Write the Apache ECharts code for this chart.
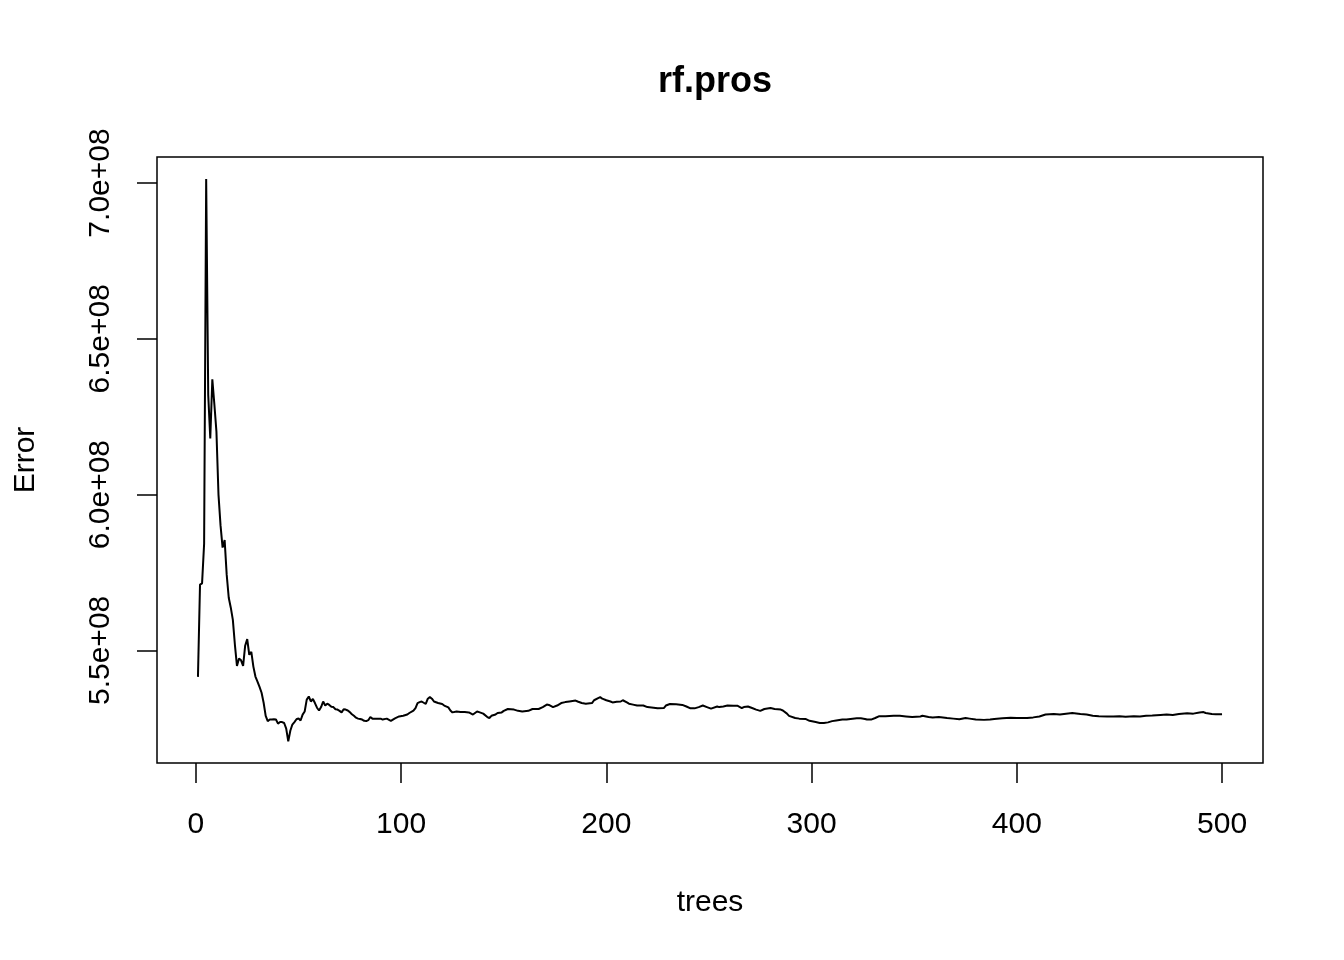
<!DOCTYPE html>
<html>
<head>
<meta charset="utf-8">
<script src="https://cdn.jsdelivr.net/npm/echarts@6/dist/echarts.min.js"></script>
<style>
  html, body { margin: 0; padding: 0; background: #ffffff; }
  #chart { width: 1344px; height: 960px; }
</style>
</head>
<body>
<div id="chart"></div>
<script>
// ---- data (error in units of 1e8) ----
const trees = [
  1,2,3,4,5,6,7,8,9,10,
  11,12,13,14,15,16,17,18,19,20,
  21,22,23,24,25,26,27,28,29,30,
  31,32,33,34,35,36,37,38,39,40,
  41,42,43,44,45,46,47,48,49,50,
  51,52,53,54,55,56,57,58,59,60,
  61,62,63,64,65,66,67,68,69,70,
  71,72,73,74,75,76,77,78,79,80,
  81,82,83,84,85,86,88,90,91,93,
  95,97,98,99,101,103,104,106,107,108,
  109,110,112,113,114,115,116,118,120,121,
  123,124,125,127,129,131,133,135,137,138,
  140,142,143,144,146,147,149,150,152,155,
  157,159,162,164,167,169,171,172,174,176,
  178,180,182,185,186,188,190,193,194,196,
  197,198,200,202,203,205,207,208,210,211,
  213,215,218,220,223,225,228,229,231,234,
  237,239,241,243,245,247,249,251,254,255,
  257,259,262,264,266,267,269,271,273,275,
  277,280,282,285,286,288,289,292,294,297,
  299,302,304,306,308,310,312,315,317,319,
  322,324,326,327,329,331,333,336,340,343,
  346,349,353,354,357,359,362,366,369,372,
  375,377,380,384,387,389,393,395,397,400,
  402,405,408,411,414,418,421,424,427,431,
  434,437,440,444,447,450,453,457,460,463,
  466,470,473,476,479,483,486,489,491,492,
  495,497,500
];
const errorE8 = [
  5.415,5.711,5.715,5.842,7.013,6.32,6.180,6.370,6.289,6.202,
  6.000,5.901,5.830,5.854,5.743,5.669,5.637,5.598,5.518,5.450,
  5.474,5.468,5.450,5.515,5.536,5.486,5.495,5.448,5.416,5.400,
  5.383,5.364,5.332,5.290,5.273,5.278,5.278,5.279,5.278,5.265,
  5.270,5.270,5.267,5.249,5.208,5.242,5.262,5.270,5.279,5.282,
  5.275,5.294,5.304,5.342,5.352,5.336,5.344,5.331,5.316,5.307,
  5.318,5.336,5.323,5.329,5.325,5.319,5.318,5.311,5.310,5.306,
  5.301,5.311,5.310,5.307,5.302,5.295,5.290,5.284,5.281,5.280,
  5.278,5.274,5.273,5.276,5.286,5.281,5.281,5.281,5.278,5.281,
  5.274,5.282,5.285,5.288,5.290,5.294,5.299,5.307,5.315,5.331,
  5.334,5.336,5.328,5.345,5.350,5.345,5.336,5.331,5.328,5.323,
  5.317,5.307,5.301,5.304,5.302,5.302,5.301,5.294,5.304,5.302,
  5.297,5.286,5.283,5.290,5.294,5.299,5.301,5.306,5.312,5.310,
  5.306,5.304,5.306,5.312,5.312,5.318,5.326,5.325,5.318,5.323,
  5.331,5.334,5.336,5.339,5.336,5.331,5.329,5.331,5.340,5.347,
  5.350,5.345,5.340,5.336,5.333,5.335,5.336,5.340,5.333,5.329,
  5.326,5.323,5.323,5.318,5.316,5.314,5.315,5.323,5.328,5.327,
  5.325,5.320,5.314,5.314,5.318,5.323,5.318,5.313,5.320,5.318,
  5.320,5.323,5.322,5.322,5.315,5.318,5.320,5.315,5.310,5.306,
  5.312,5.315,5.312,5.310,5.307,5.297,5.290,5.283,5.281,5.280,
  5.274,5.270,5.267,5.267,5.269,5.273,5.275,5.278,5.278,5.280,
  5.282,5.282,5.280,5.278,5.278,5.283,5.289,5.289,5.290,5.290,
  5.288,5.286,5.288,5.290,5.286,5.285,5.286,5.283,5.281,5.279,
  5.283,5.281,5.278,5.277,5.278,5.280,5.282,5.283,5.284,5.283,
  5.283,5.283,5.285,5.288,5.294,5.296,5.294,5.297,5.299,5.296,
  5.294,5.290,5.289,5.288,5.288,5.289,5.287,5.289,5.288,5.290,
  5.291,5.293,5.294,5.293,5.296,5.298,5.297,5.301,5.302,5.299,
  5.296,5.295,5.295
];
const UNIT = 1e8;
const xTicks = [0, 100, 200, 300, 400, 500];
const yTicks = [5.5e8, 6.0e8, 6.5e8, 7.0e8];
const titleText = 'rf.pros';
const xName = 'trees';
const yName = 'Error';

const seriesData = trees.map((t, i) => [t, errorE8[i] * UNIT]);

const FONT = 'Liberation Sans, Arial, Helvetica, sans-serif';
const chart = echarts.init(document.getElementById('chart'), null, { renderer: 'canvas' });
chart.setOption({
  animation: false,
  backgroundColor: '#ffffff',
  title: {
    text: titleText,
    left: 710,
    top: 59,
    textAlign: 'center',
    textStyle: { fontFamily: FONT, fontSize: 36, fontWeight: 'bold', color: '#000' }
  },
  grid: {
    left: 157, top: 157, right: 81, bottom: 197,
    show: true, borderColor: '#000', borderWidth: 1.5, backgroundColor: 'transparent'
  },
  xAxis: {
    type: 'value',
    min: -18.96,
    max: 519.96,
    name: xName,
    nameLocation: 'middle',
    nameGap: 125,
    nameTextStyle: { fontFamily: FONT, fontSize: 30, color: '#000' },
    axisLine: { show: false, onZero: false },
    splitLine: { show: false },
    axisTick: {
      show: true, inside: false, length: 20,
      customValues: xTicks,
      lineStyle: { color: '#000', width: 1.5 }
    },
    axisLabel: {
      show: true, margin: 47,
      customValues: xTicks,
      fontFamily: FONT, fontSize: 30, color: '#000',
      formatter: v => String(v)
    }
  },
  yAxis: {
    type: 'value',
    min: 5.1386e8,
    max: 7.0834e8,
    name: yName,
    nameLocation: 'middle',
    nameGap: 116,
    nameTextStyle: { fontFamily: FONT, fontSize: 30, color: '#000' },
    axisLine: { show: false, onZero: false },
    splitLine: { show: false },
    axisTick: {
      show: true, inside: false, length: 20,
      customValues: yTicks,
      lineStyle: { color: '#000', width: 1.5 }
    },
    axisLabel: {
      show: true, margin: 41, rotate: 90,
      customValues: yTicks,
      fontFamily: FONT, fontSize: 30, color: '#000',
      formatter: v => (v / UNIT).toFixed(1) + 'e+08'
    }
  },
  series: [{
    type: 'line',
    data: seriesData,
    showSymbol: false,
    symbol: 'none',
    lineStyle: { color: '#000', width: 2 },
    clip: true
  }]
});
</script>
</body>
</html>
